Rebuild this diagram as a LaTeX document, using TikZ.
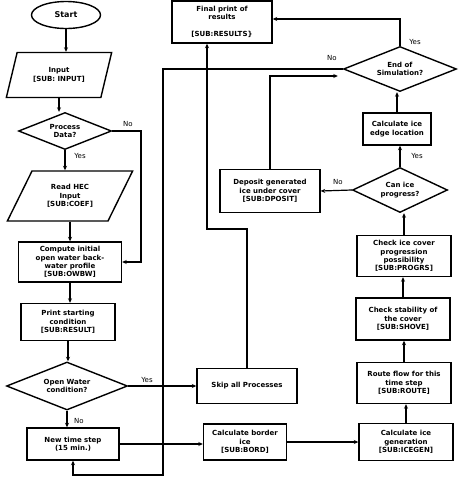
\documentclass[tikz,border=0pt]{standalone}
\usepackage{fontspec}
\setmainfont{DejaVu Sans}
\usepackage{tikz}
\usetikzlibrary{shapes.geometric, arrows.meta, calc}

\begin{document}
\begin{tikzpicture}[x=1pt, y=-1pt,
    box/.style={draw, line width=1.4pt, align=center, inner sep=1pt, font=\bfseries\fontsize{7}{8.3}\selectfont},
    decide/.style={diamond, aspect=2.5, draw, line width=1.4pt, align=center, inner sep=0pt, font=\bfseries\fontsize{7}{8.3}\selectfont},
    io/.style={trapezium, draw, line width=1.4pt, align=center, inner sep=1pt, trapezium stretches=true, font=\bfseries\fontsize{7}{8.3}\selectfont},
    lbl/.style={font=\fontsize{7}{8}\selectfont},
    arr/.style={line width=1.2pt, -{Stealth[length=4.5pt, width=4pt]}}]
    \useasboundingbox (0,0) rectangle (474,477);
    % left column
    \node[ellipse, draw, line width=1.4pt, minimum width=69pt, minimum height=27pt, font=\bfseries\fontsize{8}{9}\selectfont] (start) at (66,15) {Start};
    \node[io, trapezium left angle=67, trapezium right angle=113, minimum width=106pt, minimum height=45pt] (input) at (59,75) {Input\\{[SUB: INPUT]}};
    \node[decide, minimum width=93pt, minimum height=37pt] (procdata) at (65,131) {Process\\Data?};
    \node[io, trapezium left angle=58, trapezium right angle=122, minimum width=126pt, minimum height=50pt] (readhec) at (70,196) {Read HEC\\Input\\{[SUB:COEF]}};
    \node[box, minimum width=103pt, minimum height=40pt] (compute) at (70,262) {Compute initial\\open water back-\\water profile\\{[SUB:OWBW]}};
    \node[box, minimum width=94pt, minimum height=37pt] (printstart) at (68,322) {Print starting\\condition\\{[SUB:RESULT]}};
    \node[decide, minimum width=121pt, minimum height=48pt] (openwater) at (67,386) {Open Water\\condition?};
    \node[box, minimum width=92pt, minimum height=32pt] (newstep) at (73,444) {New time step\\(15 min.)};
    % middle
    \node[box, minimum width=100pt, minimum height=42pt] (final) at (222,22) {Final print of\\results\\[8.3pt]{[SUB:RESULTS\}}};
    \node[box, minimum width=100pt, minimum height=43pt] (deposit) at (270,191) {Deposit generated\\ice under cover\\{[SUB:DPOSIT]}};
    \node[box, minimum width=100pt, minimum height=35pt] (skip) at (247,386) {Skip all Processes};
    \node[box, minimum width=83pt, minimum height=36pt] (border) at (245,442) {Calculate border\\ice\\{[SUB:BORD]}};
    % right column
    \node[decide, minimum width=113pt, minimum height=45pt] (endsim) at (400,69) {End of\\Simulation?};
    \node[box, minimum width=68pt, minimum height=32pt] (edge) at (397,129) {Calculate ice\\edge location};
    \node[decide, minimum width=95pt, minimum height=45pt] (canice) at (400,190) {Can ice\\progress?};
    \node[box, minimum width=94pt, minimum height=41pt] (progrs) at (404,256) {Check ice cover\\progression\\possibility\\{[SUB:PROGRS]}};
    \node[box, minimum width=94pt, minimum height=42pt] (stab) at (403,319) {Check stability of\\the cover\\{[SUB:SHOVE]}};
    \node[box, minimum width=94pt, minimum height=41pt] (route) at (404,383) {Route flow for this\\time step\\{[SUB:ROUTE]}};
    \node[box, minimum width=94pt, minimum height=37pt] (icegen) at (406,442) {Calculate ice\\generation\\{[SUB:ICEGEN]}};
    % labels
    \node[lbl] (lyes1) at (80,156) {Yes};
    \node[lbl] (lno1) at (128,124) {No};
    \node[lbl] (lyes2) at (147,380) {Yes};
    \node[lbl] (lno2) at (79,421) {No};
    \node[lbl] (lyes3) at (417,156) {Yes};
    \node[lbl] (lno3) at (338,182) {No};
    \node[lbl] (lyes4) at (415,42) {Yes};
    \node[lbl] (lno4) at (332,58) {No};
    % corners
    \coordinate (pd) at (141,131);
    \coordinate (sk) at (207,229);
    \coordinate (lp) at (163,475);
    % arrows down
    \foreach \a/\b in {start/input, input/procdata, procdata/readhec, readhec/compute, compute/printstart, printstart/openwater, openwater/newstep}
        \draw[arr] (\a.south) -- (\a.south |- \b.north);
    % arrows up
    \foreach \a/\b in {icegen/route, route/stab, stab/progrs, progrs/canice, canice/edge, edge/endsim}
        \draw[arr] (\a.north) -- (\a.north |- \b.south);
    % across
    \draw[arr] (openwater.east) -- (skip.west);
    \draw[arr] (newstep.east) -- (newstep.east -| border.west);
    \draw[arr] (border.east) -- (border.east -| icegen.west);
    \draw[arr] (canice.west) -- (deposit.east);
    \draw[arr] (procdata.east) -- (pd) |- (compute.east);
    \draw[arr] (deposit.north) |- ([xshift=-5pt, yshift=-7pt]endsim.west);
    \draw[arr] (endsim.north) |- ([yshift=3pt]final.east);
    \draw[arr] (skip.north) |- (sk) -- (sk |- final.south);
    \draw[arr] (endsim.west) -| (lp) -| (newstep.south);
\end{tikzpicture}
\end{document}
